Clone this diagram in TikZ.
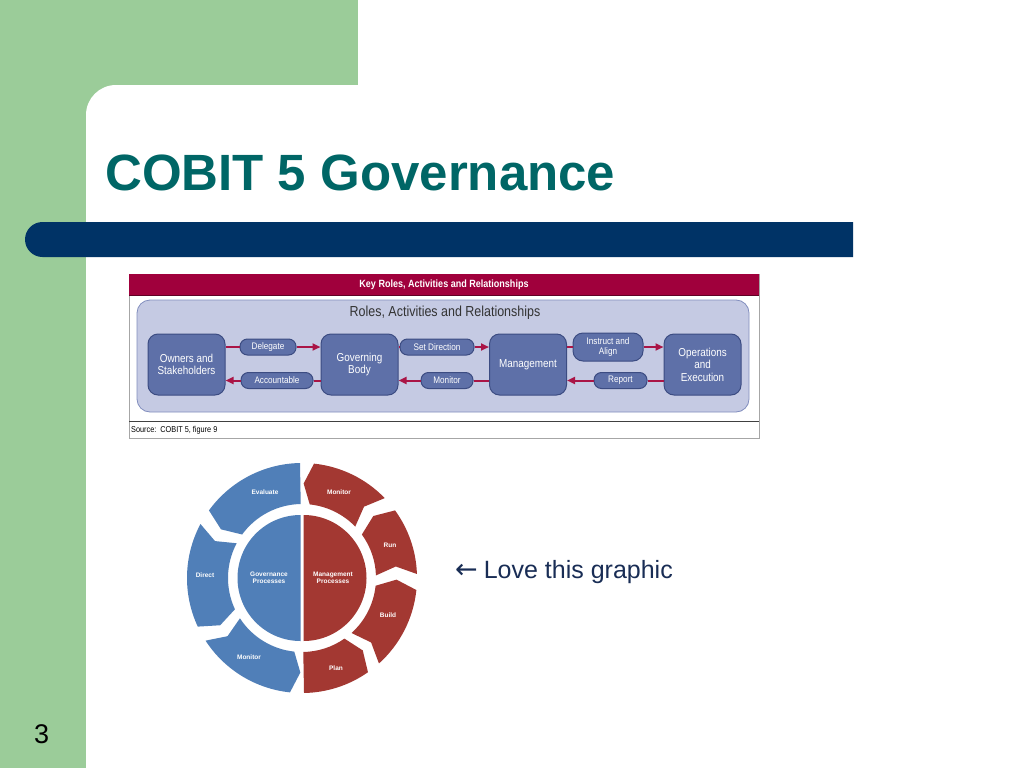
\documentclass[tikz,border=0pt]{standalone}
\usepackage{fontspec}
\setmainfont{Liberation Sans}
\newfontfamily\cond[FakeStretch=0.86]{Liberation Sans}
\newfontfamily\arrowfont{DejaVu Sans}
\usetikzlibrary{arrows.meta}
\definecolor{bggreen}{RGB}{155,204,153}
\definecolor{barblue}{RGB}{0,51,102}
\definecolor{titleteal}{RGB}{0,102,102}
\definecolor{hdrred}{RGB}{160,0,60}
\definecolor{panel}{RGB}{197,202,227}
\definecolor{panelline}{RGB}{130,142,190}
\definecolor{nodefill}{RGB}{94,112,168}
\definecolor{nodeline}{RGB}{60,76,130}
\definecolor{arrowred}{RGB}{170,20,70}
\definecolor{govblue}{RGB}{80,127,184}
\definecolor{mgmtred}{RGB}{163,56,50}
\definecolor{navytext}{RGB}{25,45,85}
\newcommand\ringseg[5]{%
 \fill[#1] (#2:115) arc[start angle=#2, end angle=#3, radius=115] -- ({#3+#5}:94.5) -- (#3:74) arc[start angle=#3, end angle=#2, radius=74] -- ({#2+#4}:94.5) -- cycle;}
\tikzset{
 bignode/.style={draw=nodeline, fill=nodefill, line width=1pt, rounded corners=10pt, minimum width=77pt, minimum height=61pt, text=white, font=\cond\fontsize{11.5}{12.5}\selectfont, align=center, inner sep=0pt},
 pill/.style={draw=nodeline, fill=nodefill, line width=1pt, rounded corners=7.5pt, minimum height=16pt, text=white, font=\cond\fontsize{9.5}{10}\selectfont, inner sep=0pt, align=center},
 link/.style={draw=arrowred, line width=2pt},
 linkarr/.style={link, -{Triangle[length=8pt,width=7pt]}},
 ringtext/.style={text=white, font=\bfseries\fontsize{6.5}{7}\selectfont, align=center, inner sep=0pt}
}
\begin{document}
\begin{tikzpicture}[x=1pt,y=-1pt]
\useasboundingbox (0,0) rectangle (1024,768);
\clip (0,0) rectangle (1024,768);
% background
\fill[white] (0,0) rectangle (1024,768);
\fill[bggreen] (0,0) rectangle (358,85);
\fill[bggreen] (0,0) rectangle (130,130);
\fill[bggreen] (0,0) rectangle (86,768);
\fill[white] (86,768) -- (86,115) .. controls (86,98.4) and (99.4,85) .. (116,85) -- (1024,85) -- (1024,768) -- cycle;
% bar
\fill[barblue] (853,222) [rounded corners=17.5pt] -- (25,222) -- (25,257) [sharp corners] -- (853,257) -- cycle;
% title
\node[anchor=base west, inner sep=0pt, text=titleteal, font=\bfseries\fontsize{51}{51}\selectfont] (title) at (105,190) {COBIT 5 Governance};
% page number
\node[anchor=base west, inner sep=0pt, font=\fontsize{27}{27}\selectfont] (pagenum) at (34,743) {3};
% caption
\node[anchor=base west, inner sep=0pt, text=navytext, font=\fontsize{25}{25}\selectfont] (love) at (455,578) {{\arrowfont\fontsize{27}{27}\selectfont ←}\hspace{6pt}Love this graphic};

% ---- top figure ----
\draw[gray!70, line width=0.8pt] (129,274) rectangle (759,438);
\fill[hdrred] (129,274) rectangle (759,295);
\draw[hdrred!60!black, line width=0.8pt] (129,295) -- (759,295);
\node[text=white, font=\cond\bfseries\fontsize{10.5}{10.5}\selectfont, inner sep=0pt] (hdr) at (444,284.5) {Key Roles, Activities and Relationships};
\draw[panelline, fill=panel, line width=0.8pt, rounded corners=13pt] (137,300) rectangle (749,412);
\node[text=black!80, font=\cond\fontsize{14.5}{14.5}\selectfont, inner sep=0pt] (ptitle) at (445,313) {Roles, Activities and Relationships};
\draw[black!75, line width=1pt] (129,421) -- (759,421);
\node[anchor=west, font=\cond\fontsize{8.5}{9}\selectfont, inner sep=0pt] (src) at (131,430) {Source:\ \ COBIT 5, figure 9};

\node[bignode] (own) at (186.5,364.5) {Owners and\\Stakeholders};
\node[bignode] (gov) at (359.5,364.5) {Governing\\Body};
\node[bignode] (mgmt) at (528,364.5) {Management};
\node[bignode] (ops) at (702.5,364.5) {Operations\\and\\Execution};

\node[pill, minimum width=56pt] (del) at (268,347) {Delegate};
\node[pill, minimum width=72pt] (acc) at (277,380.5) {Accountable};
\node[pill, minimum width=74pt] (sd) at (437,347) {Set Direction};
\node[pill, minimum width=52pt] (mon) at (447,380.5) {Monitor};
\node[pill, minimum width=70pt, minimum height=28pt, rounded corners=10pt, font=\cond\fontsize{9.5}{9.5}\selectfont] (ia) at (608,347) {Instruct and\\Align};
\node[pill, minimum width=53pt] (rep) at (620.5,380.5) {Report};

\draw[link] (del.west) -- (del.west -| own.east);
\draw[linkarr] (del.east) -- (del.east -| gov.west);
\draw[link] (acc.east) -- (acc.east -| gov.west);
\draw[linkarr] (acc.west) -- (acc.west -| own.east);
\draw[link] (sd.west) -- (sd.west -| gov.east);
\draw[linkarr] (sd.east) -- (sd.east -| mgmt.west);
\draw[link] (mon.east) -- (mon.east -| mgmt.west);
\draw[linkarr] (mon.west) -- (mon.west -| gov.east);
\draw[link] (ia.west) -- (ia.west -| mgmt.east);
\draw[linkarr] (ia.east) -- (ia.east -| ops.west);
\draw[link] (rep.east) -- (rep.east -| ops.west);
\draw[linkarr] (rep.west) -- (rep.west -| mgmt.east);

% ---- ring graphic ----
\begin{scope}[shift={(302,578)}, y=1pt]
 \ringseg{govblue}{91}{144}{0}{5}
 \ringseg{govblue}{152}{205}{5}{5}
 \ringseg{govblue}{213}{264}{5}{5}
 \ringseg{mgmtred}{-89}{-55}{0}{5}
 \ringseg{mgmtred}{-48}{-6}{5}{5}
 \ringseg{mgmtred}{2}{36}{5}{5}
 \ringseg{mgmtred}{44}{84}{5}{5}
 \fill[govblue] (-1.5,63) arc[start angle=90, end angle=270, radius=63] -- cycle;
 \fill[mgmtred] (1.5,-63) arc[start angle=-90, end angle=90, radius=63] -- cycle;
 \node[ringtext] (tev) at (-37,86) {Evaluate};
 \node[ringtext] (tdi) at (-97,3) {Direct};
 \node[ringtext] (tmb) at (-53,-79) {Monitor};
 \node[ringtext] (tgp) at (-33,0) {Governance\\Processes};
 \node[ringtext] (tmp) at (31,0) {Management\\Processes};
 \node[ringtext] (tmr) at (37,86) {Monitor};
 \node[ringtext] (tru) at (88,33) {Run};
 \node[ringtext] (tbu) at (86,-37) {Build};
 \node[ringtext] (tpl) at (34,-90) {Plan};
\end{scope}
\end{tikzpicture}
\end{document}
